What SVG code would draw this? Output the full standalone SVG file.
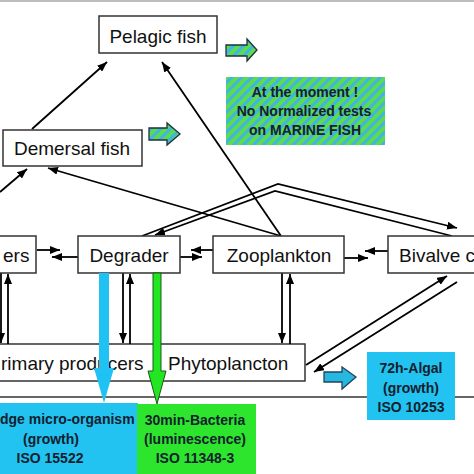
<svg xmlns="http://www.w3.org/2000/svg" width="474" height="474" viewBox="0 0 474 474">
<defs>
<pattern id="stripes" patternUnits="userSpaceOnUse" width="7" height="7" patternTransform="rotate(45)">
<rect x="0" y="0" width="7" height="7" fill="#5fdc4a"/>
<rect x="0" y="0" width="3.2" height="7" fill="#3fb6e0"/>
</pattern>
<marker id="ah" markerUnits="userSpaceOnUse" markerWidth="10" markerHeight="8" refX="10" refY="4" orient="auto">
<path d="M0,0 L10,4 L0,8 z" fill="#000"/>
</marker>
<style>
.box{fill:#fff;stroke:#333;stroke-width:1.5}
.lbl{font-family:"Liberation Sans",Arial,sans-serif;font-size:19px;fill:#111}
.bt{font-family:"Liberation Sans",Arial,sans-serif;font-size:14px;font-weight:bold;fill:#14202e;text-anchor:middle}
.c{fill:none;stroke:#000;stroke-width:1.8;marker-end:url(#ah)}
.sa{fill:url(#stripes);stroke:#1e3040;stroke-width:1.3}
</style>
</defs>
<rect x="0" y="0" width="474" height="2" fill="#bdbdbd"/>
<line x1="0" y1="397" x2="474" y2="397" stroke="#333" stroke-width="1.5"/>

<g id="primary-producers">
<rect class="box" x="-2" y="344" width="307" height="37"/>
<text class="lbl" x="1" y="370" font-size="19.5">rimary producers</text>
<text class="lbl" x="168" y="370" font-size="19.5">Phytoplancton</text>
</g>

<g id="connectors">
<line class="c" x1="32" y1="129" x2="107" y2="62"/>
<line class="c" x1="281" y1="236" x2="162" y2="62"/>
<line class="c" x1="281" y1="236" x2="48" y2="168"/>
<line class="c" x1="0" y1="192" x2="27" y2="169"/>
<polyline class="c" points="142,236 278,184 457,228"/>
<polyline class="c" points="452,236 275,191 155,235"/>
<line class="c" x1="37" y1="250" x2="60" y2="250"/>
<line class="c" x1="78" y1="257" x2="52" y2="257"/>
<line class="c" x1="213" y1="250" x2="191" y2="250"/>
<line class="c" x1="180" y1="257" x2="202" y2="257"/>
<line class="c" x1="388" y1="251" x2="365" y2="251"/>
<line class="c" x1="344" y1="258" x2="368" y2="258"/>
<line class="c" x1="1" y1="273" x2="1" y2="343"/>
<line class="c" x1="8" y1="344" x2="8" y2="274"/>
<line class="c" x1="123" y1="273" x2="123" y2="343"/>
<line class="c" x1="130" y1="344" x2="130" y2="274"/>
<line class="c" x1="282" y1="273" x2="282" y2="343"/>
<line class="c" x1="290" y1="344" x2="290" y2="274"/>
<line class="c" x1="306" y1="365" x2="447" y2="276"/>
<line class="c" x1="457" y1="282" x2="314" y2="372"/>
</g>

<g id="pelagic-fish">
<rect class="box" x="99" y="16" width="118" height="37"/>
<text class="lbl" x="158" y="43" text-anchor="middle">Pelagic fish</text>
</g>
<g id="demersal-fish">
<rect class="box" x="3" y="130" width="139" height="36"/>
<text class="lbl" x="72" y="155" text-anchor="middle">Demersal fish</text>
</g>
<g id="consumers">
<rect class="box" x="-2" y="236" width="38" height="37"/>
<text class="lbl" x="3" y="262">ers</text>
</g>
<g id="degrader">
<rect class="box" x="78" y="236" width="102" height="37"/>
<text class="lbl" x="129" y="262" text-anchor="middle">Degrader</text>
</g>
<g id="zooplankton">
<rect class="box" x="213" y="236" width="131" height="37"/>
<text class="lbl" x="279" y="262" text-anchor="middle">Zooplankton</text>
</g>
<g id="bivalve">
<rect class="box" x="388" y="236" width="90" height="37"/>
<text class="lbl" x="399" y="262" font-size="18">Bivalve c</text>
</g>

<g id="note">
<rect x="226" y="77" width="159" height="68" fill="url(#stripes)"/>
<text class="bt" x="305" y="97">At the moment !</text>
<text class="bt" x="304" y="116">No Normalized tests</text>
<text class="bt" x="305" y="135">on MARINE FISH</text>
</g>
<g id="striped-arrow-pelagic">
<polygon class="sa" points="226,45 247,45 247,39 257,50 247,61 247,56 226,56"/>
</g>
<g id="striped-arrow-demersal">
<polygon class="sa" points="149,128 167,128 167,123 180,134 167,145 167,140 149,140"/>
</g>

<g id="sludge-test">
<rect x="-1" y="403" width="139" height="72" fill="#22c3f0"/>
<text class="bt" x="0" y="424" style="text-anchor:start" font-size="13.5">dge micro-organism</text>
<text class="bt" x="51" y="444">(growth)</text>
<text class="bt" x="50" y="463">ISO 15522</text>
</g>
<g id="bacteria-test">
<rect x="137" y="404" width="119" height="71" fill="#2ee52e"/>
<text class="bt" x="195" y="425">30min-Bacteria</text>
<text class="bt" x="195" y="444">(luminescence)</text>
<text class="bt" x="195" y="463">ISO 11348-3</text>
</g>
<g id="algal-test">
<rect x="367" y="352" width="88" height="68" fill="#22c3f0"/>
<text class="bt" x="411" y="373">72h-Algal</text>
<text class="bt" x="411" y="393">(growth)</text>
<text class="bt" x="411" y="412">ISO 10253</text>
</g>

<g id="test-arrows">
<polygon points="99,273 109,273 109,368 114,368 104,403 94,368 99,368" fill="#1fc2f2"/>
<polygon points="153,273 161,273 161,371 166,371 157,404 148,371 153,371" fill="#22e622" stroke="#1a5a1a" stroke-width="1"/>
<polygon points="324,372 342,372 342,367 356,377 342,389 342,382 324,382" fill="#27b8e2" stroke="#24425e" stroke-width="1.3"/>
</g>
</svg>
